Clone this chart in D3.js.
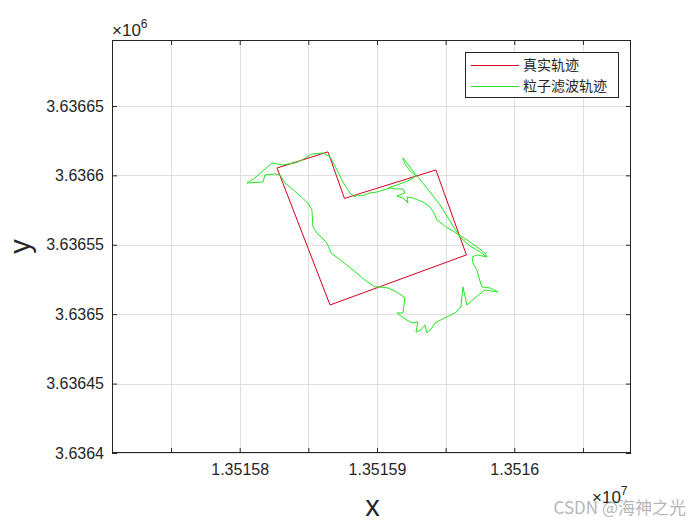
<!DOCTYPE html>
<html><head><meta charset="utf-8">
<script src="https://cdn.jsdelivr.net/npm/d3@7"></script>
<style>body{margin:0;background:#fff;} svg{display:block;}</style>
</head><body><svg id="chart" width="700" height="525"></svg>
<script>
// True trajectory (metres)
const trueX = [13515827.2, 13515864.3, 13515876.3, 13515942.9, 13515965.1, 13515865.8, 13515827.2];
const trueY = [3636605.3, 3636616.9, 3636583.4, 3636603.9, 3636542.7, 3636506.6, 3636605.3];

// Particle filter trajectory (metres)
const pfX = [13515908.0,13515914.5,13515920.4,13515924.0,13515928.4,13515924.0,13515920.4,13515918.9,13515921.8,13515925.5,
13515929.8,13515938.6,13515945.9,13515953.1,13515960.4,13515967.7,13515975.0,13515980.1,13515978.6,13515972.8,
13515965.5,13515959.7,13515955.3,13515950.2,13515945.9,13515943.7,13515941.5,13515938.6,13515933.5,13515926.2,
13515921.8,13515922.6,13515918.9,13515914.5,13515920.4,13515918.9,13515913.1,13515909.4,13515900.0,13515894.9,
13515889.1,13515885.4,13515884.0,13515880.3,13515875.2,13515870.9,13515865.8,13515860.7,13515852.6,13515845.4,
13515840.3,13515830.8,13515823.5,13515811.1,13515805.3,13515817.0,13515818.4,13515825.7,13515829.3,13515833.0,
13515841.7,13515849.7,13515852.6,13515853.4,13515856.3,13515863.6,13515866.5,13515875.2,13515882.5,13515891.2,
13515898.5,13515901.4,13515908.0,13515914.5,13515920.4,13515918.9,13515914.5,13515918.2,13515921.8,13515925.5,
13515929.8,13515928.4,13515932.0,13515934.9,13515936.4,13515940.0,13515942.2,13515949.5,13515956.8,13515961.1,
13515962.6,13515965.5,13515971.3,13515978.6,13515988.1,13515982.3,13515976.4,13515974.3,13515972.8,13515969.9,
13515969.2,13515972.8,13515980.1];
const pfY = [3636590.9,3636593.1,3636595.2,3636596.7,3636599.6,3636603.2,3636608.2,3636612.5,3636608.9,3636603.9,
3636598.8,3636588.0,3636578.7,3636567.1,3636555.6,3636549.1,3636544.8,3636541.2,3636544.1,3636548.4,
3636553.5,3636557.1,3636559.9,3636562.8,3636566.4,3636567.9,3636572.9,3636577.2,3636580.8,3636583.7,
3636584.4,3636580.1,3636583.7,3636585.2,3636587.3,3636590.2,3636590.2,3636590.9,3636588.0,3636587.3,
3636585.2,3636585.9,3636584.4,3636587.3,3636595.2,3636603.9,3636613.3,3636616.1,3636615.4,3636611.1,
3636608.9,3636607.5,3636608.9,3636598.1,3636594.5,3636595.2,3636600.3,3636601.0,3636600.3,3636594.5,
3636587.3,3636580.1,3636575.1,3636562.8,3636558.5,3636551.3,3636544.1,3636537.6,3636531.8,3636524.6,
3636519.6,3636519.6,3636518.9,3636516.0,3636511.7,3636500.9,3636500.9,3636498.0,3636495.8,3636493.7,
3636494.4,3636487.2,3636488.6,3636492.2,3636486.5,3636490.1,3636493.7,3636497.3,3636500.9,3636505.2,
3636519.6,3636506.6,3636511.7,3636517.4,3636516.0,3636518.9,3636519.6,3636526.1,3636531.8,3636536.9,
3636541.2,3636542.7,3636541.2];

const xTicks = [13515750, 13515800, 13515850, 13515900, 13515950, 13516000, 13516050];
const xTickLabels = ["", "1.35158", "", "1.35159", "", "1.3516", ""];
const yTicks = [3636400, 3636450, 3636500, 3636550, 3636600, 3636650];
const yTickLabels = ["3.6364", "3.63645", "3.6365", "3.63655", "3.6366", "3.63665"];
const xDomain = [13515707, 13516085];
const yDomain = [3636400, 3636697.5];
const seriesNames = ["真实轨迹", "粒子滤波轨迹"];
const seriesColors = ["#d4001f", "#22e622"];

const svg = d3.select("#chart");
const L = 112, R = 631, T = 40, B = 453;
const x = d3.scaleLinear().domain(xDomain).range([L, R]);
const y = d3.scaleLinear().domain(yDomain).range([B, T]);
const axisCol = "#262626";
const font = "'Liberation Sans', Arial, sans-serif";

svg.append("rect").attr("x", L).attr("y", T).attr("width", R - L).attr("height", B - T).attr("fill", "#fff");

// grid
const g = svg.append("g").attr("stroke", "#dfdfdf").attr("stroke-width", 1);
xTicks.forEach(v => g.append("line").attr("x1", Math.round(x(v)) + 0.5).attr("x2", Math.round(x(v)) + 0.5).attr("y1", T).attr("y2", B));
yTicks.forEach(v => g.append("line").attr("y1", Math.round(y(v)) + 0.5).attr("y2", Math.round(y(v)) + 0.5).attr("x1", L).attr("x2", R));

// data lines
svg.append("clipPath").attr("id", "clip").append("rect").attr("x", L).attr("y", T).attr("width", R - L).attr("height", B - T);
const line = d3.line().x(d => x(d[0])).y(d => y(d[1]));
const trueData = trueX.map((v, i) => [v, trueY[i]]);
const pfData = pfX.map((v, i) => [v, pfY[i]]);
svg.append("path").datum(trueData).attr("d", line).attr("fill", "none").attr("stroke", seriesColors[0]).attr("stroke-width", 1).attr("clip-path", "url(#clip)");
svg.append("path").datum(pfData).attr("d", line).attr("fill", "none").attr("stroke", seriesColors[1]).attr("stroke-width", 1).attr("stroke-linejoin", "round").attr("clip-path", "url(#clip)");

// axes
function styleAxis(sel) {
  sel.select(".domain").remove();
  sel.selectAll(".tick line").attr("stroke", axisCol);
  sel.selectAll(".tick text").attr("fill", axisCol).style("font-family", font).style("font-size", "16px");
}
const xb = svg.append("g").attr("transform", `translate(0,${B})`)
  .call(d3.axisBottom(x).tickValues(xTicks).tickSize(-5).tickPadding(11).tickFormat((d, i) => xTickLabels[i]));
styleAxis(xb);
const xt = svg.append("g").attr("transform", `translate(0,${T})`)
  .call(d3.axisTop(x).tickValues(xTicks).tickSize(-5).tickFormat(""));
styleAxis(xt);
const yl = svg.append("g").attr("transform", `translate(${L},0)`)
  .call(d3.axisLeft(y).tickValues(yTicks).tickSize(-5).tickPadding(8).tickFormat((d, i) => yTickLabels[i]));
styleAxis(yl);
const yr = svg.append("g").attr("transform", `translate(${R},0)`)
  .call(d3.axisRight(y).tickValues(yTicks).tickSize(-5).tickFormat(""));
styleAxis(yr);

// box
svg.append("rect").attr("x", L + 0.5).attr("y", T + 0.5).attr("width", R - L - 1).attr("height", B - T - 1)
  .attr("fill", "none").attr("stroke", axisCol).attr("stroke-width", 1);

// exponent labels
const e6 = svg.append("text").attr("x", 112).attr("y", 36).attr("fill", axisCol).style("font-family", font).style("font-size", "17px");
e6.append("tspan").text("×10");
e6.append("tspan").attr("dy", -8).style("font-size", "12px").text("6");
const e7 = svg.append("text").attr("x", 592).attr("y", 503).attr("fill", axisCol).style("font-family", font).style("font-size", "17px");
e7.append("tspan").text("×10");
e7.append("tspan").attr("dy", -8).style("font-size", "12px").text("7");

// axis titles
svg.append("text").attr("x", (L + R) / 2 + 1).attr("y", 516).attr("text-anchor", "middle").attr("fill", axisCol)
  .style("font-family", font).style("font-size", "29px").text("x");
svg.append("text").attr("transform", `translate(30,${(T + B) / 2}) rotate(-90)`).attr("text-anchor", "middle").attr("fill", axisCol)
  .style("font-family", font).style("font-size", "29px").text("y");

// legend
const lg = svg.append("g");
lg.append("rect").attr("x", 465.5).attr("y", 52.5).attr("width", 153).attr("height", 45).attr("fill", "#fff").attr("stroke", axisCol).attr("stroke-width", 1);
seriesNames.forEach((name, i) => {
  const yy = 65 + i * 21;
  lg.append("line").attr("x1", 471).attr("x2", 519).attr("y1", yy + 0.5).attr("y2", yy + 0.5).attr("stroke", seriesColors[i]).attr("stroke-width", 1);
  lg.append("text").attr("x", 523).attr("y", yy + 5).attr("fill", axisCol)
    .style("font-family", "'Noto Sans CJK SC', sans-serif").style("font-size", "14px").text(name);
});

// watermark
svg.append("text").attr("x", 686).attr("y", 514).attr("text-anchor", "end").attr("fill", "#a8a8a8").attr("fill-opacity", 0.85)
  .style("font-family", "'Noto Sans CJK SC', sans-serif").style("font-size", "17px").text("CSDN @海神之光");
</script>
</body></html>
